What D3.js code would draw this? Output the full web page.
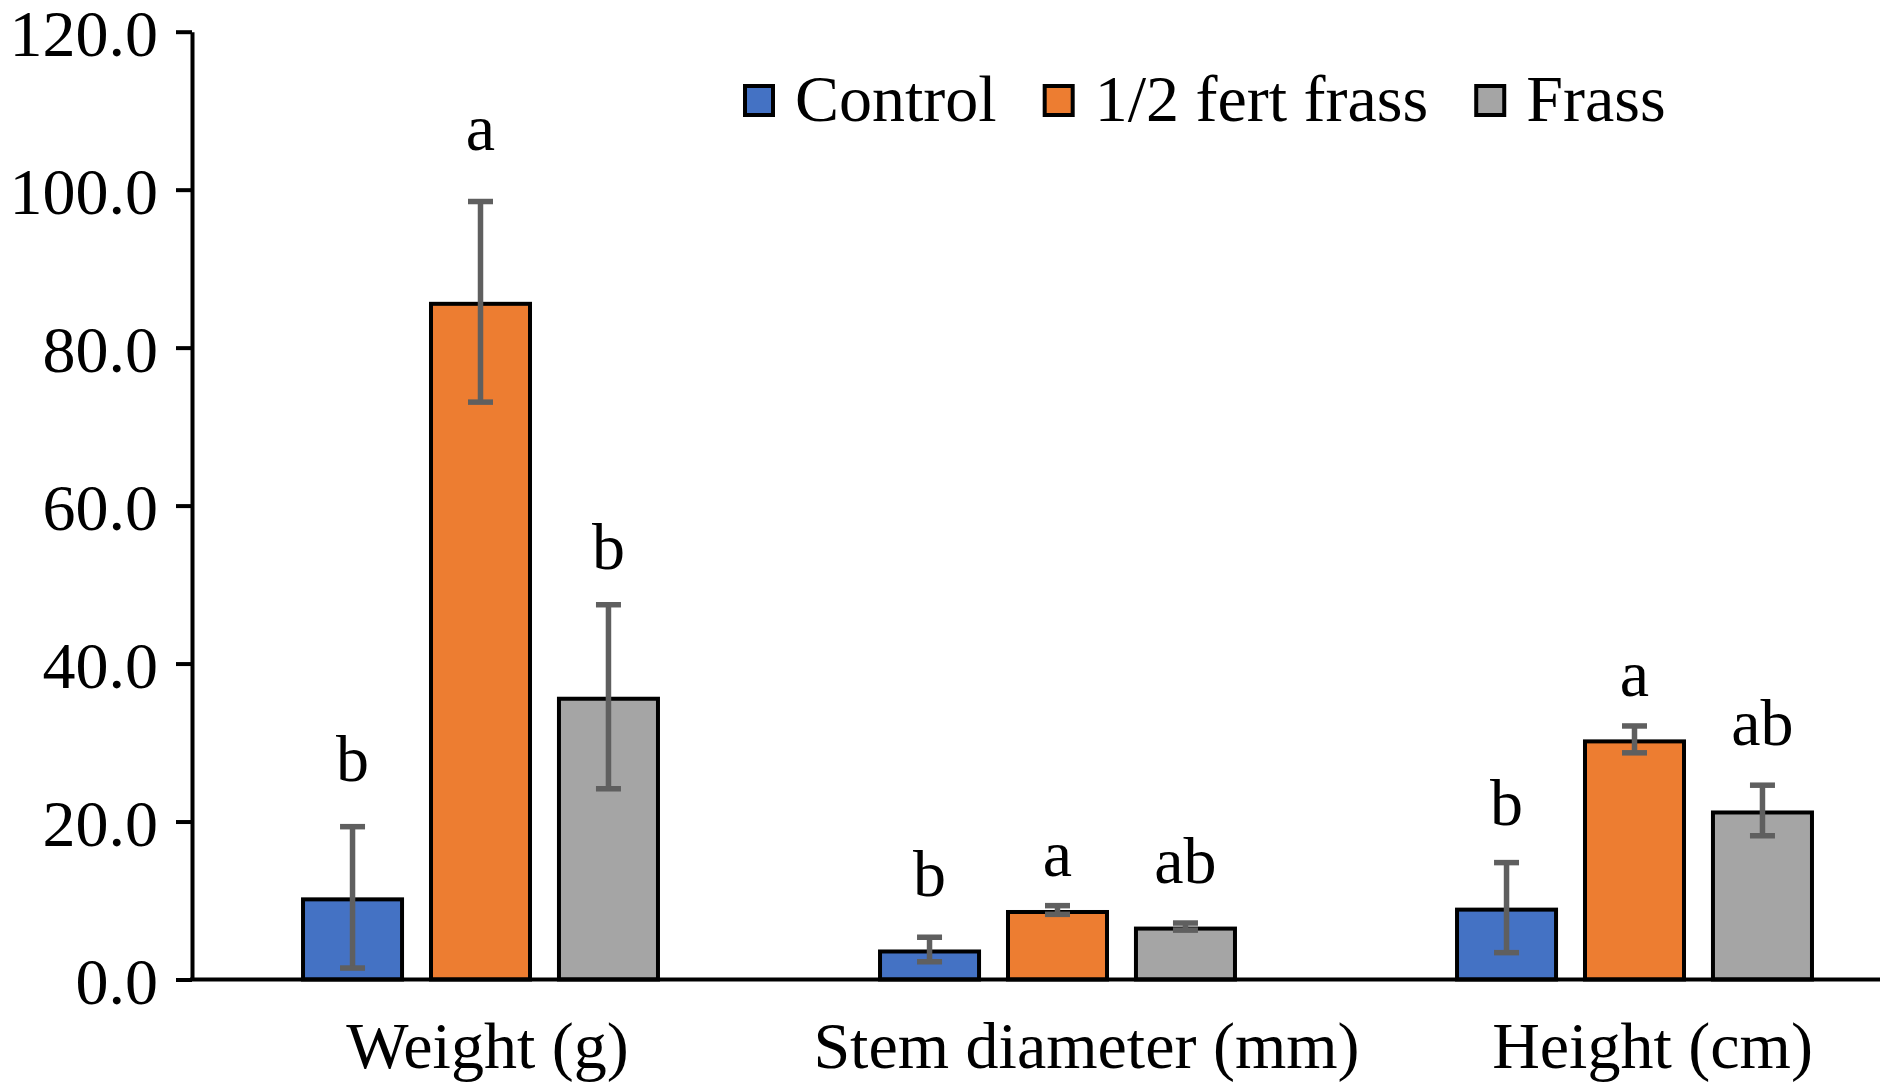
<!DOCTYPE html>
<html>
<head>
    <title>Plant growth by treatment</title>
    <script src="https://cdnjs.cloudflare.com/ajax/libs/d3/7.8.5/d3.min.js"></script>
    <style>
        body {
            margin: 0;
            background: white;
        }
        svg text {
            font-family: "Liberation Serif", "Times New Roman", serif;
            fill: black;
        }
    </style>
</head>
<body>
    <div id="chart"></div>

    <script>
        // Data
        const categories = ["Weight (g)", "Stem diameter (mm)", "Height (cm)"];
        const seriesNames = ["Control", "1/2 fert frass", "Frass"];

        const controlMeans = [10.4, 3.8, 9.1];
        const controlErrs = [8.95, 1.55, 5.7];
        const controlLetters = ["b", "b", "b"];

        const halfFertMeans = [85.8, 8.8, 30.4];
        const halfFertErrs = [12.7, 0.55, 1.7];
        const halfFertLetters = ["a", "a", "a"];

        const frassMeans = [35.8, 6.7, 21.4];
        const frassErrs = [11.65, 0.45, 3.2];
        const frassLetters = ["b", "ab", "ab"];

        const yTicks = [0, 20, 40, 60, 80, 100, 120];
        const colors = ["#4472C4", "#ED7D31", "#A5A5A5"];

        // Constants
        const width = 1890;
        const height = 1088;
        const margin = { top: 31.7, left: 192, bottom: 108.5 };
        const groupWidth = 577;
        const fontSize = "66px";
        // hand placement of the text, as in the original figure
        const labelDx = [7, 29, 18];
        const letterGap = [[46, 52, 36], [41, 30, 40], [38, 30, 40]];

        const series = [
            { name: seriesNames[0], means: controlMeans, errs: controlErrs, letters: controlLetters },
            { name: seriesNames[1], means: halfFertMeans, errs: halfFertErrs, letters: halfFertLetters },
            { name: seriesNames[2], means: frassMeans, errs: frassErrs, letters: frassLetters }
        ];

        const svg = d3.select("#chart")
            .append("svg")
            .attr("width", width)
            .attr("height", height);

        const x0 = d3.scaleBand()
            .domain(categories)
            .range([margin.left, margin.left + groupWidth * categories.length])
            .padding(0);

        const x1 = d3.scaleBand()
            .domain(seriesNames)
            .range([0, x0.bandwidth()])
            .paddingInner(0.195)
            .paddingOuter(0.852);

        const y = d3.scaleLinear()
            .domain([0, 120])
            .range([height - margin.bottom, margin.top]);

        // Bars
        const groups = svg.append("g")
            .selectAll("g")
            .data(categories)
            .enter()
            .append("g")
            .attr("transform", d => `translate(${x0(d)},0)`);

        groups.each(function(cat, i) {
            const g = d3.select(this);
            series.forEach((s, k) => {
                const bx = x1(s.name);
                const bw = x1.bandwidth();
                const cx = bx + bw / 2;
                const v = s.means[i];
                const e = s.errs[i];

                g.append("rect")
                    .attr("x", bx + 2)
                    .attr("y", y(v) + 2)
                    .attr("width", bw - 4)
                    .attr("height", y(0) - y(v) - 2)
                    .attr("fill", colors[k])
                    .attr("stroke", "black")
                    .attr("stroke-width", 4);

                // error bar
                const eg = g.append("g")
                    .attr("stroke", "#5f5f5f")
                    .attr("stroke-width", 5.5);
                eg.append("line")
                    .attr("x1", cx).attr("x2", cx)
                    .attr("y1", y(v + e)).attr("y2", y(v - e));
                eg.append("line")
                    .attr("x1", cx - 12.5).attr("x2", cx + 12.5)
                    .attr("y1", y(v + e)).attr("y2", y(v + e));
                eg.append("line")
                    .attr("x1", cx - 12.5).attr("x2", cx + 12.5)
                    .attr("y1", y(v - e)).attr("y2", y(v - e));

                // significance letter
                g.append("text")
                    .attr("x", cx)
                    .attr("y", y(v + e) - letterGap[i][k])
                    .attr("text-anchor", "middle")
                    .style("font-size", fontSize)
                    .text(s.letters[i]);
            });
        });

        // Y axis
        const yAxis = svg.append("g")
            .attr("transform", `translate(${margin.left},0)`)
            .call(d3.axisLeft(y)
                .tickValues(yTicks)
                .tickFormat(d3.format(".1f"))
                .tickSize(16)
                .tickSizeOuter(0)
                .tickPadding(18));
        yAxis.select(".domain")
            .attr("stroke", "black")
            .attr("stroke-width", 4);
        yAxis.selectAll(".tick line")
            .attr("stroke", "black")
            .attr("stroke-width", 4);
        yAxis.selectAll(".tick text")
            .style("font-size", fontSize)
            .attr("dy", "0.36em");

        // X axis (no ticks, labels only)
        const xAxis = svg.append("g")
            .attr("transform", `translate(0,${y(0)})`)
            .call(d3.axisBottom(x0).tickSize(0).tickPadding(0));
        xAxis.select(".domain").remove();
        xAxis.selectAll(".tick text")
            .style("font-size", fontSize)
            .attr("dx", (d, i) => labelDx[i])
            .attr("dy", 0)
            .attr("y", 88);

        svg.append("line")
            .attr("x1", margin.left - 2)
            .attr("x2", 1880)
            .attr("y1", y(0))
            .attr("y2", y(0))
            .attr("stroke", "black")
            .attr("stroke-width", 4);

        // Legend
        const legend = svg.append("g")
            .attr("transform", "translate(745,0)");
        let lx = 0;
        series.forEach((s, k) => {
            const item = legend.append("g")
                .attr("transform", `translate(${lx},0)`);
            item.append("rect")
                .attr("x", 0)
                .attr("y", 86)
                .attr("width", 28)
                .attr("height", 29)
                .attr("fill", colors[k])
                .attr("stroke", "black")
                .attr("stroke-width", 4);
            const t = item.append("text")
                .attr("x", 50)
                .attr("y", 121)
                .style("font-size", fontSize)
                .text(s.name);
            lx += 50 + t.node().getComputedTextLength() + 48;
        });
    </script>
</body>
</html>
